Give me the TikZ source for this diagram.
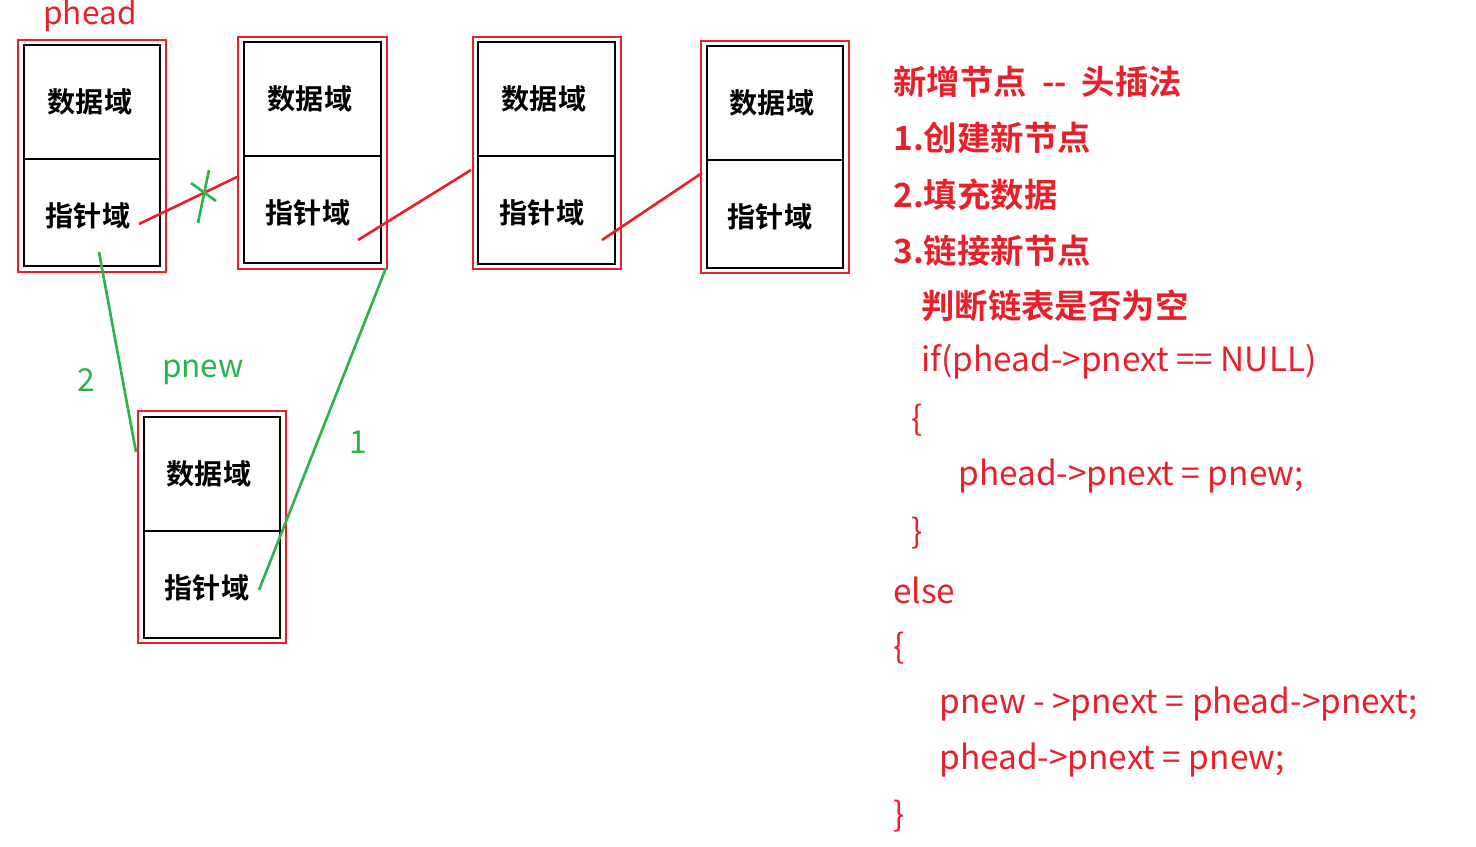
\documentclass[tikz,border=0pt]{standalone}
\usepackage{fontspec}
\setmainfont{Noto Sans CJK SC}
\newfontfamily\cjkb{Noto Sans CJK SC Bold}
\begin{document}
\begin{tikzpicture}[x=0.02cm,y=-0.02cm,
  redc/.style={draw=myred,line width=1.4pt},
  inner/.style={draw=black,line width=1.6pt},
  lab/.style={font=\cjkb\fontsize{16}{18}\selectfont,inner sep=0},
  rl/.style={myred,line width=1.5pt},
  gl/.style={mygreen,line width=1.5pt},
  code/.style={anchor=west,inner sep=0,text=myred,font=\fontsize{19}{22}\selectfont},
  head/.style={anchor=west,inner sep=0,text=myred,font=\cjkb\fontsize{19}{22}\selectfont}]
\definecolor{myred}{HTML}{E8202A}
\definecolor{mygreen}{HTML}{2DB34A}
\useasboundingbox (0,0) rectangle (1476,846);
% node 1
\draw[redc] (18,40) rectangle (166,272);
\draw[inner] (24,45) rectangle (160,266);
\draw[inner] (24,159) -- (160,159);
\node[lab] (d1) at (90,102) {数据域};
\node[lab] (p1) at (88,216) {指针域};
% node 2
\draw[redc] (238,37) rectangle (387,269);
\draw[inner] (244,42) rectangle (381,263);
\draw[inner] (244,156) -- (381,156);
\node[lab] (d2) at (310,99) {数据域};
\node[lab] (p2) at (308,213) {指针域};
% node 3
\draw[redc] (473,37) rectangle (621,269);
\draw[inner] (478,42) rectangle (615,264);
\draw[inner] (478,156) -- (615,156);
\node[lab] (d3) at (544,99) {数据域};
\node[lab] (p3) at (542,213) {指针域};
% node 4
\draw[redc] (701,41) rectangle (849,273);
\draw[inner] (707,46) rectangle (843,268);
\draw[inner] (707,160) -- (843,160);
\node[lab] (d4) at (772,103) {数据域};
\node[lab] (p4) at (770,217) {指针域};
% pnew
\draw[redc] (138,411) rectangle (286,643);
\draw[inner] (144,417) rectangle (280,638);
\draw[inner] (144,531) -- (280,531);
\node[lab] (d5) at (209,474) {数据域};
\node[lab] (p5) at (207,588) {指针域};
% connectors
\coordinate (a1) at (139,224); \coordinate (b1) at (237,177);
\draw[rl] (a1) -- (b1);
\coordinate (a2) at (358,240); \coordinate (b2) at (471,170);
\draw[rl] (a2) -- (b2);
\coordinate (a3) at (602,240); \coordinate (b3) at (702,173);
\draw[rl] (a3) -- (b3);
\coordinate (x1) at (209,170); \coordinate (x2) at (198,223);
\coordinate (x3) at (191,183); \coordinate (x4) at (216,201);
\draw[gl] (x1) -- (x2); \draw[gl] (x3) -- (x4);
\coordinate (g1) at (99,252); \coordinate (g2) at (136,452);
\draw[gl] (g1) -- (g2);
\coordinate (g3) at (386,268); \coordinate (g4) at (259,590);
\draw[gl] (g3) -- (g4);
% labels
\node[text=myred,font=\fontsize{18}{20}\selectfont] (ph) at (90,16) {phead};
\node[text=mygreen,font=\fontsize{18}{20}\selectfont] (pn) at (203,372) {pnew};
\node[text=mygreen,font=\fontsize{18}{20}\selectfont] (n2) at (86,380) {2};
\node[text=mygreen,font=\fontsize{18}{20}\selectfont] (n1) at (358,442) {1};
% text
\node[head] (t1) at (893,82) {新增节点\ \ -{}-\ \ 头插法};
\node[head] (t2) at (893,138) {1.创建新节点};
\node[head] (t3) at (893,195) {2.填充数据};
\node[head] (t4) at (893,251) {3.链接新节点};
\node[head] (t5) at (921,306) {判断链表是否为空};
\node[code] (c1) at (921,362) {if(phead->pnext == NULL)};
\node[code] (c2) at (911,420) {\{};
\node[code] (c3) at (958,476) {phead->pnext = pnew;};
\node[code] (c4) at (911,533) {\}};
\node[code] (c5) at (893,590) {else};
\node[code] (c6) at (893,648) {\{};
\node[code] (c7) at (939,704) {pnew - >pnext = phead->pnext;};
\node[code] (c8) at (939,760) {phead->pnext = pnew;};
\node[code] (c9) at (893,816) {\}};
\end{tikzpicture}
\end{document}
